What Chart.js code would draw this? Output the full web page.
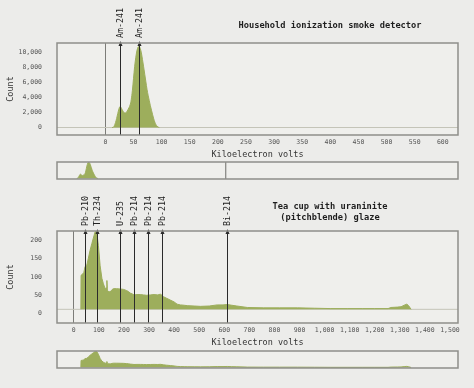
<!DOCTYPE html>
<html>
<head>
<meta charset="utf-8">
<script src="https://cdn.jsdelivr.net/npm/chart.js@4.4.1/dist/chart.umd.min.js"></script>
<style>
  html, body { margin: 0; padding: 0; background: #ececea; }
  #wrap { position: relative; width: 474px; height: 388px; }
  canvas { position: absolute; left: 0; top: 0; }
</style>
</head>
<body>
<div id="wrap">
  <canvas id="smokeChart" width="474" height="388"></canvas>
  <canvas id="smokeMini" width="474" height="388"></canvas>
  <canvas id="cupChart" width="474" height="388"></canvas>
  <canvas id="cupMini" width="474" height="388"></canvas>
</div>
<script>
// ---------------------------------------------------------
// DATA
// ---------------------------------------------------------
// Household ionization smoke detector (keV / count)
const smokeKev = [
  12, 14, 16, 18, 20, 22, 24, 26, 28, 30, 32, 34, 36, 38,
  40, 42, 44, 46, 48, 50, 52, 54, 56, 58, 60, 62, 64, 66,
  68, 70, 72, 74, 76, 78, 80, 82, 84, 86, 88, 90, 92, 94, 96
];
const smokeCount = [
  0, 20, 250, 650, 1200, 1850, 2450, 2780, 2650, 2350, 2100, 1950, 1950, 2100,
  2350, 2650, 3000, 3700, 4900, 6500, 8100, 9300, 10200, 10700, 10800, 10550, 9950, 9050,
  8100, 7100, 6100, 5100, 4300, 3600, 2900, 2300, 1700, 1150, 700, 380, 170, 50, 0
];
const smokeMarkers = [26.3, 59.5];
const smokeMarkerLabels = ["Am-241", "Am-241"];
const smokeXTicks = [0, 50, 100, 150, 200, 250, 300, 350, 400, 450, 500, 550, 600];
const smokeYTicks = [0, 2000, 4000, 6000, 8000, 10000];

// Tea cup with uraninite glaze (keV / count)
const cupKev = [
  28, 29, 36, 40, 45, 52, 58, 65, 72, 78,
  85, 88, 92, 98, 105, 112, 118, 125, 129, 132,
  134, 140, 145, 152, 158, 170, 185, 198, 210, 218,
  225, 232, 240, 252, 265, 278, 290, 305, 320, 335,
  345, 352, 358, 370, 385, 400, 412, 425, 440, 452,
  480, 505, 540, 572, 595, 612, 630, 650, 692, 757,
  820, 892, 960, 1025, 1090, 1150, 1200, 1253, 1265, 1290,
  1305, 1320, 1328, 1335, 1345
];
const cupCount = [
  12, 104, 108, 112, 128, 132, 150, 172, 190, 205,
  222, 224, 218, 185, 130, 96, 81, 68, 70, 90,
  62, 60, 59, 65, 68, 68, 67, 66, 63, 60,
  56, 54, 51, 52, 52, 51, 50, 51, 52, 51,
  53, 50, 46, 42, 37, 32, 26, 24, 23, 22,
  21, 20, 21, 24, 24, 25, 23, 21, 17, 16,
  16, 16, 15, 14, 14, 14, 14, 14, 17, 18,
  19, 24, 26, 22, 12
];
const cupMarkers = [46.5, 92.6, 185.7, 242, 295.2, 351.9, 609.3];
const cupMarkerLabels = ["Pb-210", "Th-234", "U-235", "Pb-214", "Pb-214", "Pb-214", "Bi-214"];
const cupXTicks = [0, 100, 200, 300, 400, 500, 600, 700, 800, 900, 1000, 1100, 1200, 1300, 1400, 1500];
const cupYTicks = [0, 50, 100, 150, 200];

// axis ranges and baselines
const smokeXRange = [-86, 627];
const smokeYRange = [-1000, 11270];
const smokeBaseline = 0;
const cupXRange = [-67, 1532];
const cupYRange = [-25, 224];
const cupBaseline = 12;
const smokeBrushEnd = 606; // visible window of top chart, shown in overview

// ---------------------------------------------------------
// STYLE
// ---------------------------------------------------------
const GREEN = "#9dae5c";
const PLOT_BG = "#efefec";
const FRAME = "#8e8e8a";
const FONT = '"DejaVu Sans Mono", monospace';

Chart.defaults.font.family = FONT;

const pts = (xs, ys) => xs.map((x, i) => ({ x: x, y: ys[i] }));
const fmt = v => Number(v).toLocaleString("en-US");

// ---------------------------------------------------------
// PLUGINS
// ---------------------------------------------------------
const framePlugin = {
  id: "frame",
  beforeDraw(chart) {
    const { ctx, chartArea: a } = chart;
    ctx.save();
    ctx.fillStyle = PLOT_BG;
    ctx.fillRect(a.left, a.top, a.width, a.height);
    ctx.restore();
  },
  afterDraw(chart) {
    const { ctx, chartArea: a } = chart;
    ctx.save();
    ctx.strokeStyle = FRAME;
    ctx.lineWidth = 1.5;
    ctx.strokeRect(a.left, a.top, a.width, a.height);
    ctx.restore();
  }
};

function markerPlugin(kevs, labels) {
  return {
    id: "markers",
    afterDatasetsDraw(chart) {
      const { ctx, chartArea: a, scales: { x } } = chart;
      ctx.save();
      kevs.forEach((k, i) => {
        const px = Math.round(x.getPixelForValue(k)) + 0.5;
        ctx.strokeStyle = "#2b2b2b";
        ctx.fillStyle = "#2b2b2b";
        ctx.lineWidth = 1;
        ctx.beginPath();
        ctx.moveTo(px, a.bottom);
        ctx.lineTo(px, a.top + 3);
        ctx.stroke();
        ctx.beginPath();
        ctx.moveTo(px, a.top - 2);
        ctx.lineTo(px - 2, a.top + 3);
        ctx.lineTo(px + 2, a.top + 3);
        ctx.closePath();
        ctx.fill();
        ctx.save();
        ctx.translate(px, a.top - 5);
        ctx.rotate(-Math.PI / 2);
        ctx.font = "8.3px " + FONT;
        ctx.textAlign = "left";
        ctx.textBaseline = "middle";
        ctx.fillStyle = "#222";
        ctx.fillText(labels[i], 0, 0);
        ctx.restore();
      });
      ctx.restore();
    }
  };
}

function titlePlugin(lines, gap) {
  return {
    id: "chartTitle",
    afterDraw(chart) {
      const { ctx, chartArea: a } = chart;
      ctx.save();
      ctx.font = "bold 8.7px " + FONT;
      ctx.fillStyle = "#1e1e1e";
      ctx.textAlign = "center";
      ctx.textBaseline = "middle";
      lines.forEach((t, i) => {
        ctx.fillText(t, a.right - 128, a.top - gap - (lines.length - 1 - i) * 11);
      });
      ctx.restore();
    }
  };
}

// ---------------------------------------------------------
// MAIN CHART
// ---------------------------------------------------------
function mainChart(id, c) {
  return new Chart(document.getElementById(id), {
    type: "line",
    data: {
      datasets: [
        {
          data: pts(c.kev, c.count),
          borderColor: GREEN,
          backgroundColor: GREEN,
          borderWidth: 1,
          pointRadius: 0,
          fill: { value: c.baseline },
          tension: 0,
          cubicInterpolationMode: c.smooth ? "monotone" : "default"
        },
        {
          data: [{ x: c.xRange[0], y: c.baseline }, { x: c.xRange[1], y: c.baseline }],
          borderColor: "#c4c4b8",
          borderWidth: 1,
          pointRadius: 0,
          fill: false
        }
      ]
    },
    options: {
      responsive: false,
      animation: false,
      devicePixelRatio: 1,
      layout: { padding: c.padding },
      plugins: { legend: { display: false }, tooltip: { enabled: false } },
      scales: {
        x: {
          type: "linear",
          min: c.xRange[0],
          max: c.xRange[1],
          afterBuildTicks: s => { s.ticks = c.xTicks.map(v => ({ value: v })); },
          afterFit: s => { s.height = 25; s.paddingLeft = 0; s.paddingRight = 0; },
          grid: {
            drawTicks: false,
            color: g => (g.tick && g.tick.value === 0 ? "#7c7c78" : "transparent")
          },
          border: { display: false },
          ticks: {
            padding: 3, maxRotation: 0, autoSkip: false,
            font: { size: 6.5 }, color: "#555",
            callback: fmt
          },
          title: {
            display: true, text: "Kiloelectron volts",
            font: { size: 8.5 }, color: "#333", padding: 0
          }
        },
        y: {
          min: c.yRange[0],
          max: c.yRange[1],
          afterBuildTicks: s => { s.ticks = c.yTicks.map(v => ({ value: v })); },
          afterFit: s => { s.width = 57; s.paddingTop = 0; s.paddingBottom = 0; },
          grid: { display: false },
          border: { display: false },
          ticks: { padding: 7, font: { size: 6.5 }, color: "#555", callback: fmt },
          title: {
            display: true, text: "Count",
            font: { size: 8.5 }, color: "#333", padding: { top: 6, bottom: 0 }
          }
        }
      }
    },
    plugins: [framePlugin, markerPlugin(c.markers, c.labels), titlePlugin(c.title, c.titleGap)]
  });
}

// ---------------------------------------------------------
// OVERVIEW STRIP
// ---------------------------------------------------------
function miniChart(id, c) {
  const datasets = [{
    data: pts(c.kev, c.count),
    borderColor: GREEN,
    backgroundColor: GREEN,
    borderWidth: 1,
    pointRadius: 0,
    fill: { value: c.baseline },
    tension: 0,
    cubicInterpolationMode: c.smooth ? "monotone" : "default"
  }];
  if (c.brush != null) {
    datasets.push({
      data: [{ x: c.brush, y: c.yRange[0] }, { x: c.brush, y: c.yRange[1] }],
      borderColor: "#6e6e6a",
      borderWidth: 1,
      pointRadius: 0,
      fill: false
    });
  }
  return new Chart(document.getElementById(id), {
    type: "line",
    data: { datasets: datasets },
    options: {
      responsive: false,
      animation: false,
      devicePixelRatio: 1,
      layout: { padding: c.padding },
      plugins: { legend: { display: false }, tooltip: { enabled: false } },
      scales: {
        x: { type: "linear", display: false, min: cupXRange[0], max: cupXRange[1] },
        y: { display: false, min: c.yRange[0], max: c.yRange[1] }
      }
    },
    plugins: [framePlugin]
  });
}

// ---------------------------------------------------------
// INIT
// ---------------------------------------------------------
mainChart("smokeChart", {
  kev: smokeKev, count: smokeCount, baseline: smokeBaseline, smooth: true,
  xRange: smokeXRange, yRange: smokeYRange, xTicks: smokeXTicks, yTicks: smokeYTicks,
  markers: smokeMarkers, labels: smokeMarkerLabels,
  title: ["Household ionization smoke detector"], titleGap: 17,
  padding: { top: 43, right: 16, bottom: 228, left: 0 }
});

miniChart("smokeMini", {
  kev: smokeKev, count: smokeCount, baseline: smokeBaseline, smooth: true,
  yRange: [-400, 10900], brush: smokeBrushEnd,
  padding: { top: 162, right: 16, bottom: 209, left: 57 }
});

mainChart("cupChart", {
  kev: cupKev, count: cupCount, baseline: cupBaseline, smooth: false,
  xRange: cupXRange, yRange: cupYRange, xTicks: cupXTicks, yTicks: cupYTicks,
  markers: cupMarkers, labels: cupMarkerLabels,
  title: ["Tea cup with uraninite", "(pitchblende) glaze"], titleGap: 13,
  padding: { top: 231, right: 16, bottom: 40, left: 0 }
});

miniChart("cupMini", {
  kev: cupKev, count: cupCount, baseline: cupBaseline, smooth: false,
  yRange: [5, 228], brush: null,
  padding: { top: 351, right: 16, bottom: 20, left: 57 }
});
</script>
</body>
</html>
